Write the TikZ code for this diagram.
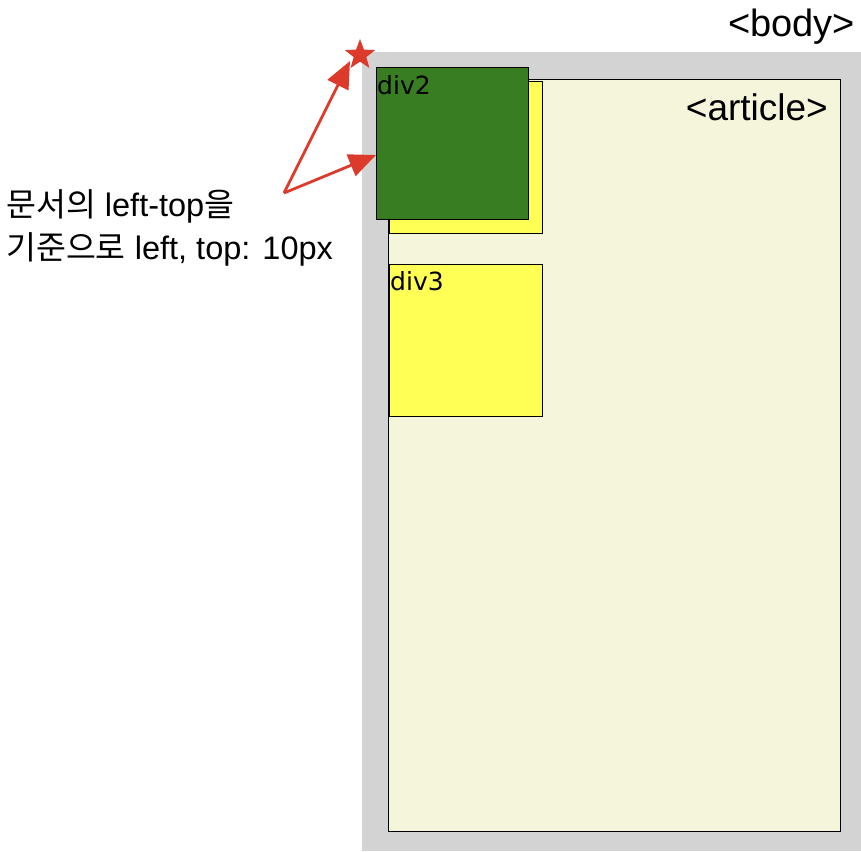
\documentclass[tikz,border=0pt]{standalone}
\usepackage{fontspec}
\setmainfont{Liberation Sans}
\newfontfamily\kr{Noto Sans CJK KR}
\newfontfamily\dv{DejaVu Sans}
\usetikzlibrary{shapes.geometric,arrows.meta}
\definecolor{bodygray}{HTML}{D3D3D3}
\definecolor{artbg}{HTML}{F5F5DC}
\definecolor{yel}{HTML}{FFFF55}
\definecolor{grn}{HTML}{387D22}
\definecolor{redm}{HTML}{DC3A2A}
\tikzset{
  box/.style={draw=black, line width=0.9pt, anchor=north west, inner sep=0pt},
  divlabel/.style={font=\dv\fontsize{25}{28}\selectfont, anchor=base west, inner sep=0pt},
  redarrow/.style={draw=redm, line width=2.8pt, -{Triangle[length=27pt,width=23pt]}},
  notetext/.style={anchor=base west, inner sep=0pt, font=\fontsize{32.5}{40}\selectfont},
}
\begin{document}
\begin{tikzpicture}[x=1pt,y=-1pt]
\useasboundingbox (0,0) rectangle (861,851);
\fill[bodygray] (362,52) rectangle (861,851);
\node (body) [anchor=base east, inner sep=0pt, font=\fontsize{38}{42}\selectfont] at (855,37) {<body>};
\node (article) [box, fill=artbg, minimum width=452pt, minimum height=752pt] at (388,79) {};
\node (articlelbl) [anchor=base east, inner sep=0pt, font=\fontsize{37}{42}\selectfont] at (828,120) {<article>};
\node (div1) [box, fill=yel, minimum width=153pt, minimum height=152pt] at (389,81) {};
\node (div2) [box, fill=grn, minimum width=152pt, minimum height=152pt] at (376,67) {};
\node (div2lbl) [divlabel] at (377,94) {div2};
\node (div3) [box, fill=yel, minimum width=153pt, minimum height=152pt] at (389,264) {};
\node (div3lbl) [divlabel] at (390,290) {div3};
\node (star) [star, star points=5, star point ratio=2.4, fill=redm, inner sep=0pt, outer sep=0pt, minimum size=32pt] at (360,55) {};
\coordinate (src) at (284,193);
\draw[redarrow] (src) -- (350,61);
\draw[redarrow] (src) -- (div2.west |- 0,155);
\node (note1) [notetext] at (6,216) {{\kr 문서의} left-top{\kr 을}};
\node (note2) [notetext] at (6,259) {{\kr 기준으로} left, top: 10px};
\end{tikzpicture}
\end{document}
